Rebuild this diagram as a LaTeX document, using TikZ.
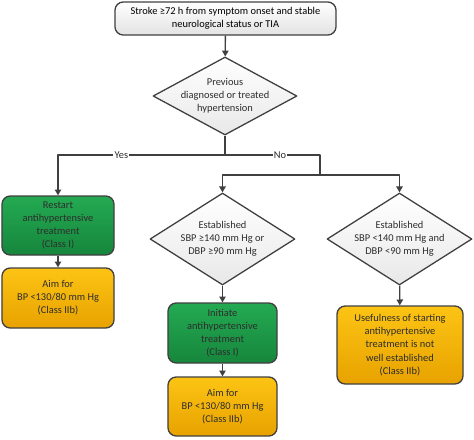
\documentclass[tikz,border=0pt]{standalone}
\usepackage{fontspec}
\setmainfont{Carlito}
\usepackage{tikz}
\usetikzlibrary{arrows.meta,shapes.geometric}
\definecolor{edge}{RGB}{64,64,64}
\definecolor{ink}{RGB}{45,45,45}
\definecolor{leafgreen}{RGB}{36,170,82}
\definecolor{deepgreen}{RGB}{22,134,60}
\definecolor{amber}{RGB}{252,196,20}
\definecolor{deepamber}{RGB}{232,162,0}

\begin{document}
\begin{tikzpicture}[x=0.03cm,y=-0.03cm,line join=round,
  font=\fontsize{8.9}{11.2}\selectfont,
  box/.style={draw=edge,line width=1.1pt,rounded corners=7pt,align=center,text=ink,inner sep=2pt},
  startbox/.style={box,top color=white,bottom color=gray!22,text=black},
  greenbox/.style={box,top color=leafgreen,bottom color=deepgreen},
  amberbox/.style={box,top color=amber,bottom color=deepamber},
  query/.style={diamond,draw=edge,line width=1.1pt,inner sep=0pt,
    top color=white,bottom color=gray!18,
    label={[align=center,text=ink]center:#1}},
  conn/.style={draw=edge,line width=1.1pt},
  flow/.style={conn,-{Triangle[length=5pt,width=5.5pt]}},
  tag/.style={fill=white,inner sep=1pt,text=ink}]
\useasboundingbox (0,0) rectangle (474,439);

% start and first question
\node[startbox,minimum width=6.63cm,minimum height=0.99cm] (onset) at (225.5,18.5)
  {Stroke ≥72 h from symptom onset and stable\\neurological status or TIA};
\node[query={Previous\\diagnosed or treated\\hypertension},
  minimum width=4.32cm,minimum height=2.34cm] (known) at (225,96) {};

% yes branch
\node[greenbox,minimum width=3.36cm,minimum height=1.77cm] (restart) at (58,225.5)
  {Restart\\antihypertensive\\treatment\\(Class I)};
\node[amberbox,minimum width=3.36cm,minimum height=1.8cm] (aimyes) at (58,298)
  {Aim for\\BP <130/80 mm Hg\\(Class IIb)};

% no branch
\node[query={Established\\SBP ≥140 mm Hg or\\DBP ≥90 mm Hg},
  minimum width=4.35cm,minimum height=2.76cm] (high) at (222.5,239) {};
\node[query={Established\\SBP <140 mm Hg and\\DBP <90 mm Hg},
  minimum width=4.35cm,minimum height=2.76cm] (low) at (399.5,239) {};
\node[greenbox,minimum width=3.27cm,minimum height=1.8cm] (initiate) at (222.5,333)
  {Initiate\\antihypertensive\\treatment\\(Class I)};
\node[amberbox,minimum width=3.27cm,minimum height=1.77cm] (aimno) at (222.5,406.5)
  {Aim for\\BP <130/80 mm Hg\\(Class IIb)};
\node[amberbox,minimum width=3.78cm,minimum height=2.34cm] (unclear) at (400,345)
  {Usefulness of starting\\antihypertensive\\treatment is not\\well established\\(Class IIb)};

\coordinate (split) at (225,155);
\coordinate (nojoin) at (320,175);

% connectors
\draw[flow] (onset) -- (known);
\draw[conn] (known) -- (split);
\draw[flow] (split) -| node[tag,pos=0.31] {Yes} (restart);
\draw[conn] (split) -| node[tag,pos=0.29] {No} (nojoin);
\draw[flow] (nojoin) -| (high);
\draw[flow] (nojoin) -| (low);
\draw[flow] (restart) -- (aimyes);
\draw[flow] (high) -- (initiate);
\draw[flow] (initiate) -- (aimno);
\draw[flow] (low) -- (unclear);
\end{tikzpicture}
\end{document}
